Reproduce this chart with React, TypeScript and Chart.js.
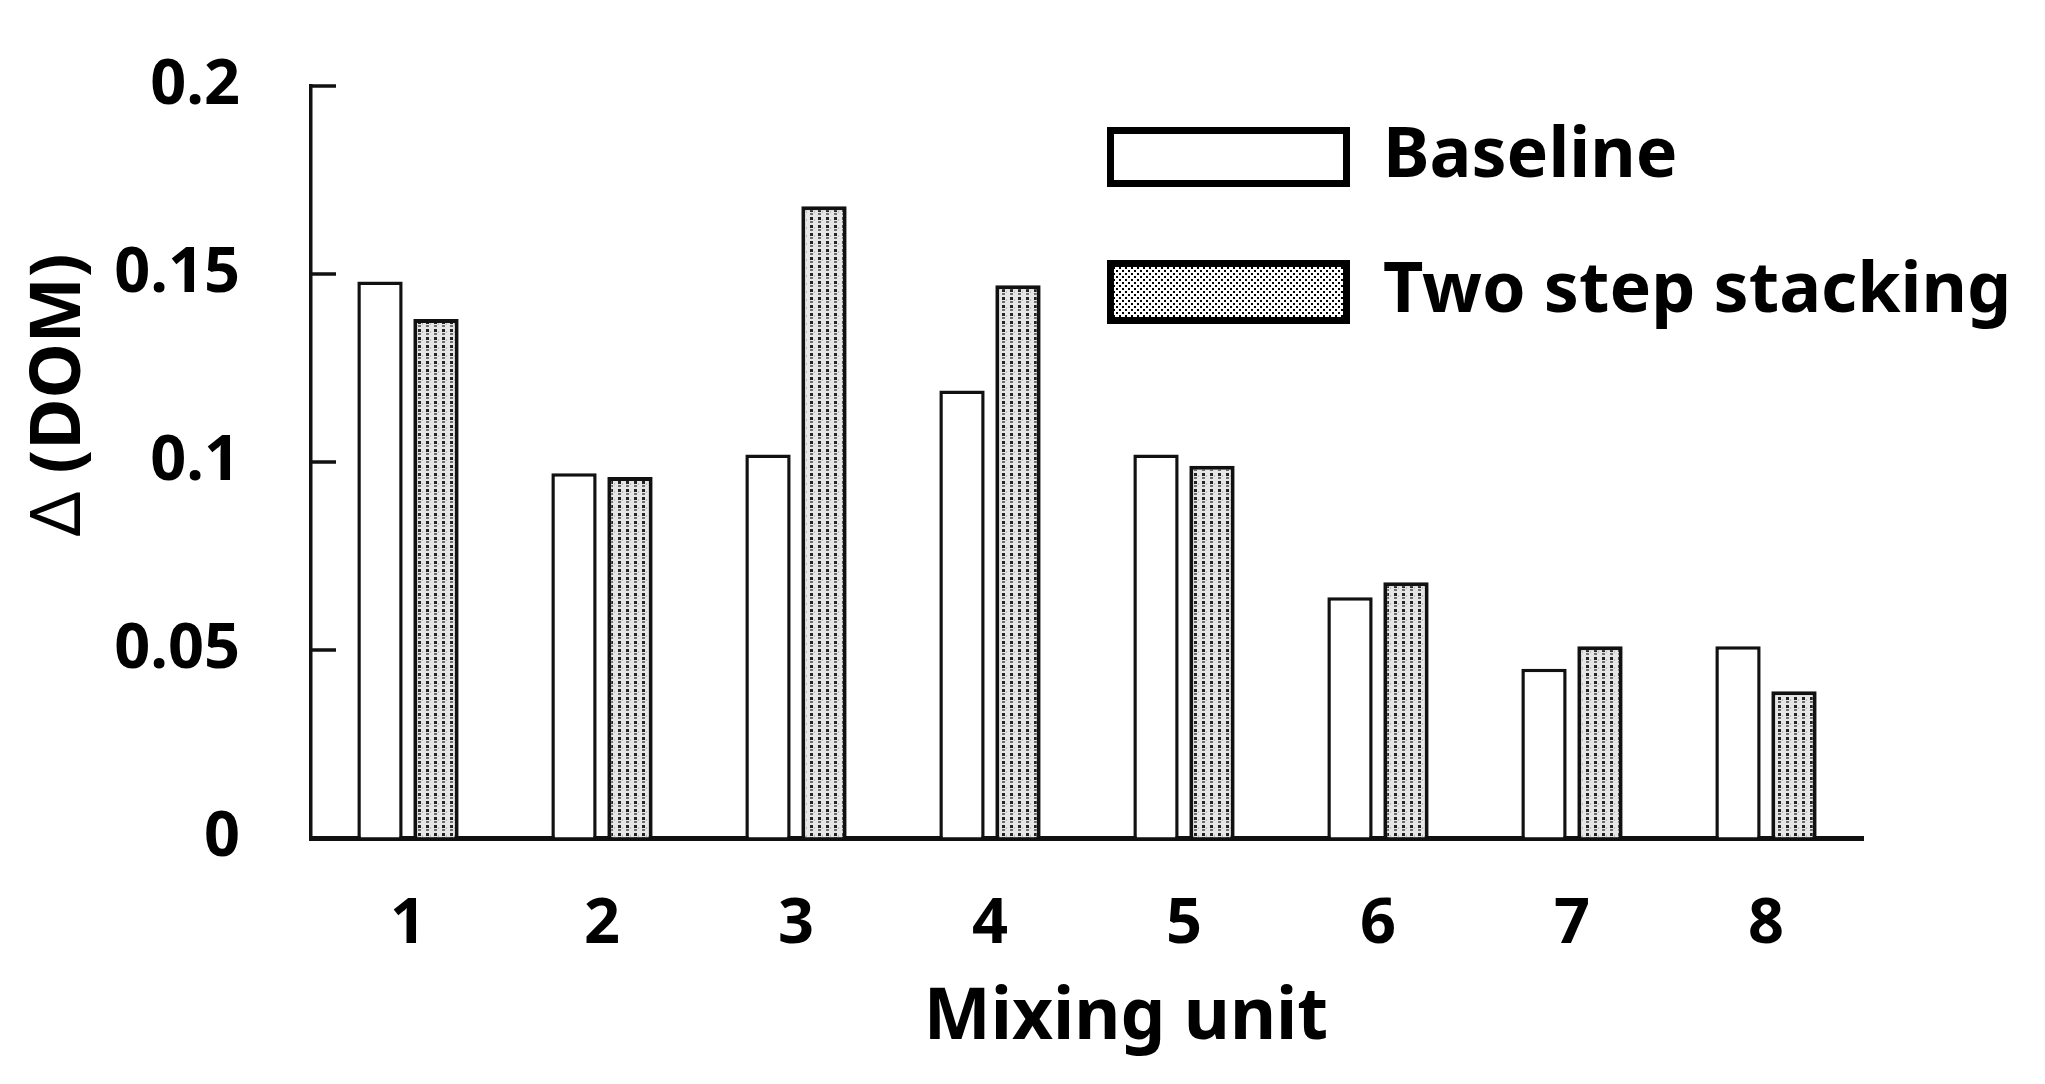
import React, { useEffect, useRef } from "react";
import { Chart, registerables } from "chart.js";

Chart.register(...registerables);

// ---- data ----
const categories = ["1", "2", "3", "4", "5", "6", "7", "8"];
const baselineValues = [0.148, 0.097, 0.102, 0.119, 0.102, 0.064, 0.045, 0.051];
const twoStepValues = [0.138, 0.096, 0.168, 0.147, 0.099, 0.068, 0.051, 0.039];
const yTickValues = [0, 0.05, 0.1, 0.15, 0.2];
const yTickLabels = ["0", "0.05", "0.1", "0.15", "0.2"];
const seriesLabels = ["Baseline", "Two step stacking"];
const xTitle = "Mixing unit";
const yTitleSymbol = "\u0394";
const yTitleRest = " (DOM)";

// ---- layout / style ----
const W = 2045;
const H = 1084;
const FONT = '"Noto Sans", "Open Sans", "DejaVu Sans", sans-serif';
const INK = "#111111";

function makePattern(
  size: number,
  bg: string,
  dots: { x: number; y: number; w: number; h: number; c: string }[]
): CanvasPattern | string {
  const c = document.createElement("canvas");
  c.width = size;
  c.height = size;
  const g = c.getContext("2d");
  if (!g) return bg;
  g.fillStyle = bg;
  g.fillRect(0, 0, size, size);
  dots.forEach((d) => {
    g.fillStyle = d.c;
    g.fillRect(d.x, d.y, d.w, d.h);
  });
  const p = g.createPattern(c, "repeat");
  return p || bg;
}

export default function App() {
  const ref = useRef<HTMLCanvasElement | null>(null);

  useEffect(() => {
    const canvas = ref.current;
    if (!canvas) return;

    const barPattern = makePattern(8, "#e6e6e6", [
      { x: 2, y: 1, w: 3, h: 3, c: "#222222" },
      { x: 2, y: 5, w: 3, h: 2, c: "#707070" },
      { x: 6, y: 3, w: 1, h: 2, c: "#bdbdbd" },
    ]);
    const legendPattern = makePattern(6, "#ffffff", [
      { x: 0, y: 0, w: 2, h: 2, c: "#000000" },
      { x: 3, y: 3, w: 2, h: 2, c: "#000000" },
    ]);

    const inwardTicks = {
      id: "inwardTicks",
      afterDraw(chart: any) {
        const s = chart.scales.y;
        const ctx = chart.ctx;
        ctx.save();
        ctx.strokeStyle = INK;
        ctx.lineWidth = 3.5;
        s.ticks.forEach((t: any) => {
          if (t.value === 0) return;
          const y = s.getPixelForValue(t.value);
          ctx.beginPath();
          ctx.moveTo(chart.chartArea.left, y);
          ctx.lineTo(chart.chartArea.left + 25, y);
          ctx.stroke();
        });
        ctx.restore();
      },
    };

    const axisTitles = {
      id: "axisTitles",
      afterDraw(chart: any) {
        const ctx = chart.ctx;
        ctx.save();
        ctx.fillStyle = "#000";
        ctx.font = `bold 71px ${FONT}`;
        ctx.textAlign = "center";
        ctx.textBaseline = "alphabetic";
        ctx.fillText(xTitle, 1126, 1039);
        // rotated y title: thin delta followed by bold "(DOM)"
        ctx.translate(80, 395);
        ctx.rotate(-Math.PI / 2);
        ctx.textAlign = "left";
        const symFont = `normal 70px ${FONT}`;
        const restFont = `bold 70px ${FONT}`;
        ctx.font = symFont;
        const wSym = ctx.measureText(yTitleSymbol).width;
        ctx.font = restFont;
        const wRest = ctx.measureText(yTitleRest).width;
        const start = -(wSym + wRest) / 2;
        ctx.font = symFont;
        ctx.fillText(yTitleSymbol, start, 0);
        ctx.font = restFont;
        ctx.fillText(yTitleRest, start + wSym, 0);
        ctx.restore();
      },
    };

    const boxLegend = {
      id: "boxLegend",
      afterDraw(chart: any) {
        const ctx = chart.ctx;
        const boxes = [
          { x: 1107, y: 127, w: 243, h: 60 },
          { x: 1107, y: 260, w: 243, h: 64 },
        ];
        chart.data.datasets.forEach((ds: any, i: number) => {
          const b = boxes[i];
          ctx.save();
          ctx.fillStyle = i === 0 ? "#ffffff" : legendPattern;
          ctx.fillRect(b.x, b.y, b.w, b.h);
          ctx.lineWidth = 7;
          ctx.strokeStyle = "#000";
          ctx.strokeRect(b.x + 3.5, b.y + 3.5, b.w - 7, b.h - 7);
          ctx.fillStyle = "#000";
          ctx.font = `bold 70px ${FONT}`;
          ctx.textAlign = "left";
          ctx.textBaseline = "middle";
          ctx.fillText(ds.label, 1383, b.y + b.h / 2);
          ctx.restore();
        });
      },
    };

    const tickFont = { family: FONT, size: 63, weight: "bold" as const };

    const chart = new Chart(canvas, {
      type: "bar",
      data: {
        labels: categories,
        datasets: [
          {
            label: seriesLabels[0],
            data: baselineValues,
            backgroundColor: "#ffffff",
            borderColor: INK,
            borderWidth: 3.5,
            borderSkipped: "bottom",
            categoryPercentage: 0.577,
            barPercentage: 0.81,
          },
          {
            label: seriesLabels[1],
            data: twoStepValues,
            backgroundColor: barPattern as any,
            borderColor: INK,
            borderWidth: 4,
            borderSkipped: "bottom",
            categoryPercentage: 0.577,
            barPercentage: 0.81,
          },
        ],
      },
      options: {
        responsive: false,
        maintainAspectRatio: false,
        animation: false,
        layout: { padding: { top: 86, right: 182, left: 0, bottom: 0 } },
        plugins: {
          legend: { display: false },
          tooltip: { enabled: false },
        },
        scales: {
          x: {
            type: "category",
            grid: {
              display: true,
              drawOnChartArea: false,
              drawTicks: true,
              tickLength: 49,
              color: "rgba(0,0,0,0)",
            },
            border: { display: true, width: 5, color: INK },
            ticks: { color: "#000", font: tickFont, padding: 0, maxRotation: 0 },
            afterFit: (s: any) => {
              s.height = 246;
            },
          },
          y: {
            type: "linear",
            min: 0,
            max: 0.2,
            grid: {
              display: true,
              drawOnChartArea: false,
              drawTicks: true,
              tickLength: 71,
              color: "rgba(0,0,0,0)",
            },
            border: { display: true, width: 3.5, color: INK },
            ticks: {
              color: "#000",
              font: tickFont,
              padding: 0,
              callback: (v: any) => {
                const i = yTickValues.indexOf(Number(v));
                return i >= 0 ? yTickLabels[i] : "";
              },
            },
            afterBuildTicks: (s: any) => {
              s.ticks = yTickValues.map((v) => ({ value: v }));
            },
            afterFit: (s: any) => {
              s.width = 311;
            },
          },
        },
      },
      plugins: [inwardTicks, axisTitles, boxLegend],
    });

    return () => {
      chart.destroy();
    };
  }, []);

  return (
    <div
      style={{
        position: "fixed",
        left: 0,
        top: 0,
        width: W,
        height: H,
        background: "#ffffff",
        overflow: "hidden",
      }}
    >
      <canvas ref={ref} width={W} height={H} style={{ width: W, height: H, display: "block" }} />
    </div>
  );
}
